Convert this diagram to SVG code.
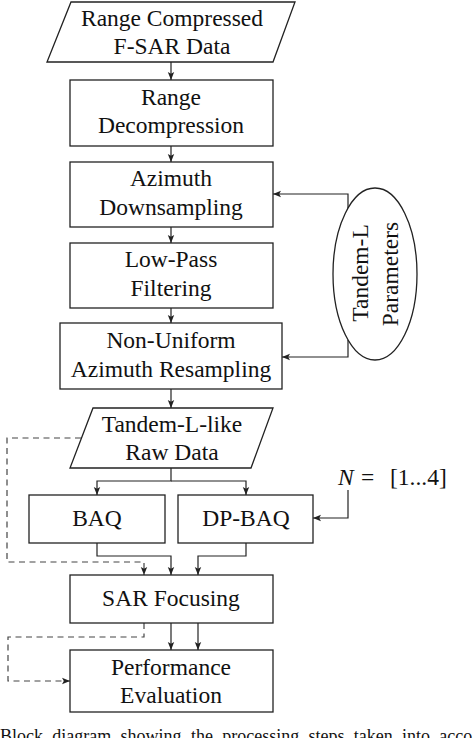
<svg xmlns="http://www.w3.org/2000/svg" width="474" height="738" viewBox="0 0 474 738">
<style>
.box{fill:#fff;stroke:#222;stroke-width:1.3}
.t{font-family:'Liberation Serif',serif;font-size:23.5px;fill:#111;text-anchor:middle}
.ln{fill:none;stroke:#222;stroke-width:1.2}
.ds{fill:none;stroke:#444;stroke-width:1.2;stroke-dasharray:6 4.5}
.cap{font-family:'Liberation Serif',serif;font-size:18px;fill:#111;word-spacing:4.8px}
</style>
<defs>
<marker id="ah" viewBox="0 0 8 8" refX="8" refY="4" markerWidth="8" markerHeight="8" markerUnits="userSpaceOnUse" orient="auto">
<path d="M0,0.8 L8,4 L0,7.2 L1.8,4 Z" fill="#222"/>
</marker>
</defs>
<rect width="474" height="738" fill="#fff"/>
<g id="connectors">
<path class="ln" d="M171,62 V80" marker-end="url(#ah)"/>
<path class="ln" d="M171,146 V162" marker-end="url(#ah)"/>
<path class="ln" d="M171,227 V243" marker-end="url(#ah)"/>
<path class="ln" d="M171,308 V323" marker-end="url(#ah)"/>
<path class="ln" d="M171,389 V408" marker-end="url(#ah)"/>
<path class="ln" d="M171,468 V481 H97 V495" marker-end="url(#ah)"/>
<path class="ln" d="M171,481 H246 V495" marker-end="url(#ah)"/>
<path class="ln" d="M97,543 V556 H171 V575" marker-end="url(#ah)"/>
<path class="ln" d="M246,543 V556 H198 V575" marker-end="url(#ah)"/>
<path class="ds" d="M81,438 H7 V562 H144 V575" marker-end="url(#ah)"/>
<path class="ln" d="M171,623 V650" marker-end="url(#ah)"/>
<path class="ln" d="M198,623 V650" marker-end="url(#ah)"/>
<path class="ds" d="M144,623 V637 H8 V681 H70" marker-end="url(#ah)"/>
<path class="ln" d="M348,210 V194 H273" marker-end="url(#ah)"/>
<path class="ln" d="M348,340 V357 H282" marker-end="url(#ah)"/>
<path class="ln" d="M348,490 V518 H313" marker-end="url(#ah)"/>
</g>
<g id="n1">
<polygon class="box" points="71,2 295,2 273,62 47,62"/>
<text class="t" x="172" y="26">Range Compressed</text>
<text class="t" x="172" y="54">F-SAR Data</text>
</g>
<g id="n2">
<rect class="box" x="70" y="80" width="203" height="66"/>
<text class="t" x="171" y="105">Range</text>
<text class="t" x="171" y="133">Decompression</text>
</g>
<g id="n3">
<rect class="box" x="70" y="162" width="203" height="65"/>
<text class="t" x="171" y="186">Azimuth</text>
<text class="t" x="171" y="215">Downsampling</text>
</g>
<g id="n4">
<rect class="box" x="70" y="243" width="203" height="65"/>
<text class="t" x="171" y="267">Low-Pass</text>
<text class="t" x="171" y="296">Filtering</text>
</g>
<g id="n5">
<rect class="box" x="60" y="323" width="222" height="66"/>
<text class="t" x="171" y="348">Non-Uniform</text>
<text class="t" x="171" y="377">Azimuth Resampling</text>
</g>
<g id="params">
<ellipse class="box" cx="375" cy="274" rx="42" ry="86"/>
<text class="t" transform="translate(368,273) rotate(-90)">Tandem-L</text>
<text class="t" transform="translate(398,274) rotate(-90)">Parameters</text>
</g>
<g id="n6">
<polygon class="box" points="93,408 273,408 251,468 70,468"/>
<text class="t" x="172" y="432">Tandem-L-like</text>
<text class="t" x="172" y="460">Raw Data</text>
</g>
<g id="baq">
<rect class="box" x="29" y="495" width="136" height="48"/>
<text class="t" x="97" y="526">BAQ</text>
</g>
<g id="dpbaq">
<rect class="box" x="178" y="495" width="135" height="48"/>
<text class="t" x="246" y="526">DP-BAQ</text>
</g>
<g id="nlabel">
<text class="t" style="text-anchor:start" y="485"><tspan x="338" font-style="italic">N</tspan><tspan x="361">=</tspan><tspan x="390">[1...4]</tspan></text>
</g>
<g id="sar">
<rect class="box" x="70" y="575" width="203" height="48"/>
<text class="t" x="171" y="606">SAR Focusing</text>
</g>
<g id="perf">
<rect class="box" x="70" y="650" width="203" height="62"/>
<text class="t" x="171" y="675">Performance</text>
<text class="t" x="171" y="703">Evaluation</text>
</g>
<text class="cap" x="0" y="742">Block diagram showing the processing steps taken into acco</text>
</svg>
